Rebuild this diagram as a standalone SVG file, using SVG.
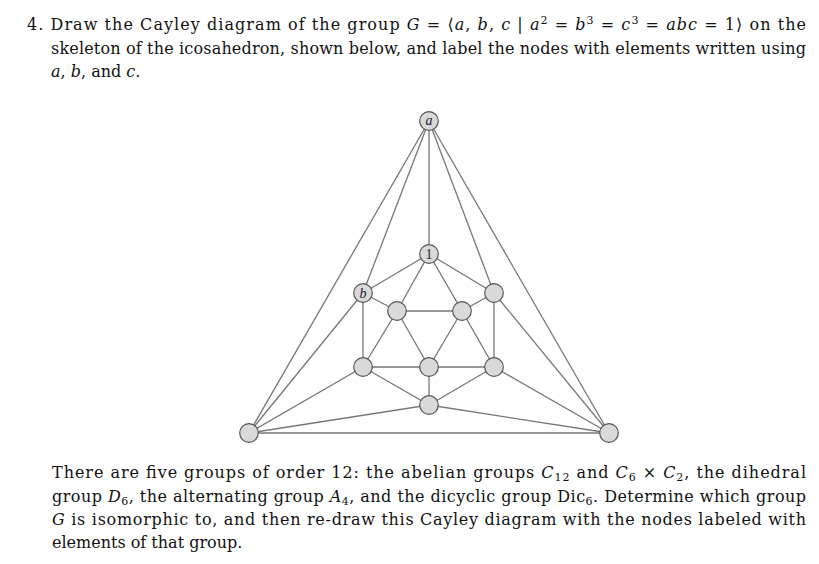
<svg xmlns="http://www.w3.org/2000/svg" width="819" height="564" viewBox="0 0 819 564">
<style>
.t{font-family:"DejaVu Serif","Liberation Serif",serif;font-size:16px;fill:#111}
.i{font-style:italic}
.e line{stroke:#777;stroke-width:1.3}
.n circle{fill:#d9d9d9;stroke:#555;stroke-width:1.2}
.n text{font-family:"Liberation Serif","DejaVu Serif",serif;font-size:14px;fill:#223;text-anchor:middle}
</style>
<rect width="819" height="564" fill="#fff"/>
<g id="para1">
<text class="t" x="27" y="30" textLength="779" lengthAdjust="spacing">4. Draw the Cayley diagram of the group <tspan class="i">G</tspan> = ⟨<tspan class="i">a</tspan>, <tspan class="i">b</tspan>, <tspan class="i">c</tspan> | <tspan class="i">a</tspan><tspan dy="-6" font-size="11">2</tspan><tspan dy="6"> = </tspan><tspan class="i">b</tspan><tspan dy="-6" font-size="11">3</tspan><tspan dy="6"> = </tspan><tspan class="i">c</tspan><tspan dy="-6" font-size="11">3</tspan><tspan dy="6"> = </tspan><tspan class="i">abc</tspan> = 1⟩ on the</text>
<text class="t" x="51" y="53.5" textLength="755" lengthAdjust="spacing">skeleton of the icosahedron, shown below, and label the nodes with elements written using</text>
<text class="t" x="51" y="77"><tspan class="i">a</tspan>, <tspan class="i">b</tspan>, and <tspan class="i">c</tspan>.</text>
</g>
<g id="connectors" class="e">
<line x1="429" y1="121" x2="429" y2="254"/>
<line x1="429" y1="121" x2="363" y2="293"/>
<line x1="429" y1="121" x2="494" y2="293"/>
<line x1="429" y1="121" x2="249" y2="433"/>
<line x1="429" y1="121" x2="609" y2="433"/>
<line x1="429" y1="254" x2="363" y2="293"/>
<line x1="429" y1="254" x2="494" y2="293"/>
<line x1="429" y1="254" x2="397" y2="311"/>
<line x1="429" y1="254" x2="462" y2="311"/>
<line x1="363" y1="293" x2="397" y2="311"/>
<line x1="363" y1="293" x2="363" y2="367"/>
<line x1="363" y1="293" x2="249" y2="433"/>
<line x1="494" y1="293" x2="462" y2="311"/>
<line x1="494" y1="293" x2="494" y2="367"/>
<line x1="494" y1="293" x2="609" y2="433"/>
<line x1="397" y1="311" x2="462" y2="311"/>
<line x1="397" y1="311" x2="363" y2="367"/>
<line x1="397" y1="311" x2="429" y2="367"/>
<line x1="462" y1="311" x2="429" y2="367"/>
<line x1="462" y1="311" x2="494" y2="367"/>
<line x1="363" y1="367" x2="429" y2="367"/>
<line x1="363" y1="367" x2="249" y2="433"/>
<line x1="363" y1="367" x2="429" y2="405"/>
<line x1="494" y1="367" x2="429" y2="367"/>
<line x1="494" y1="367" x2="609" y2="433"/>
<line x1="494" y1="367" x2="429" y2="405"/>
<line x1="429" y1="367" x2="429" y2="405"/>
<line x1="429" y1="405" x2="249" y2="433"/>
<line x1="429" y1="405" x2="609" y2="433"/>
<line x1="249" y1="433" x2="609" y2="433"/>
</g>
<g id="node-a" class="n"><circle cx="429" cy="121" r="9.3"/><text x="429" y="125" class="i">a</text></g>
<g id="node-1" class="n"><circle cx="429" cy="254" r="9.3"/><text x="429" y="259">1</text></g>
<g id="node-b" class="n"><circle cx="363" cy="293" r="9.3"/><text x="363" y="297.5" class="i">b</text></g>
<g id="node-r" class="n"><circle cx="494" cy="293" r="9.3"/></g>
<g id="node-il" class="n"><circle cx="397" cy="311" r="9.3"/></g>
<g id="node-ir" class="n"><circle cx="462" cy="311" r="9.3"/></g>
<g id="node-ll" class="n"><circle cx="363" cy="367" r="9.3"/></g>
<g id="node-lm" class="n"><circle cx="429" cy="367" r="9.3"/></g>
<g id="node-lr" class="n"><circle cx="494" cy="367" r="9.3"/></g>
<g id="node-bc" class="n"><circle cx="429" cy="405" r="9.3"/></g>
<g id="node-bl" class="n"><circle cx="249" cy="433" r="9.3"/></g>
<g id="node-br" class="n"><circle cx="609" cy="433" r="9.3"/></g>
<g id="para2">
<text class="t" x="52" y="478" textLength="754" lengthAdjust="spacing">There are five groups of order 12: the abelian groups <tspan class="i">C</tspan><tspan dy="3" font-size="11">12</tspan><tspan dy="-3"> and </tspan><tspan class="i">C</tspan><tspan dy="3" font-size="11">6</tspan><tspan dy="-3"> × </tspan><tspan class="i">C</tspan><tspan dy="3" font-size="11">2</tspan><tspan dy="-3">, the dihedral</tspan></text>
<text class="t" x="52" y="501.5" textLength="754" lengthAdjust="spacing">group <tspan class="i">D</tspan><tspan dy="3" font-size="11">6</tspan><tspan dy="-3">, the alternating group </tspan><tspan class="i">A</tspan><tspan dy="3" font-size="11">4</tspan><tspan dy="-3">, and the dicyclic group Dic</tspan><tspan dy="3" font-size="11">6</tspan><tspan dy="-3">. Determine which group</tspan></text>
<text class="t" x="52" y="525" textLength="754" lengthAdjust="spacing"><tspan class="i">G</tspan> is isomorphic to, and then re-draw this Cayley diagram with the nodes labeled with</text>
<text class="t" x="52" y="548">elements of that group.</text>
</g>
</svg>
